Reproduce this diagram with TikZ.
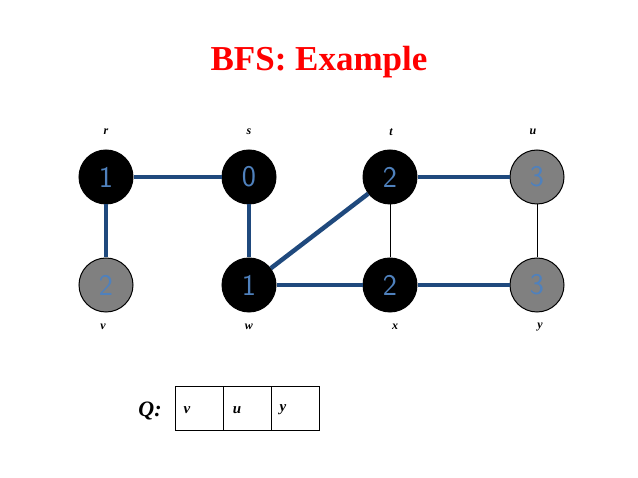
\documentclass[tikz,border=0pt]{standalone}
\usepackage{fontspec}
\setmainfont{Liberation Serif}
\begin{document}
\begin{tikzpicture}[x=1pt,y=-1pt,
  vtx/.style={circle,draw=black,line width=1pt,minimum size=54pt,inner sep=0pt,font=\fontsize{30}{30}\selectfont\sffamily,text=numc},
  blk/.style={vtx,fill=black},
  gry/.style={vtx,fill=graycol},
  tree/.style={line width=4.5pt,draw=treec},
  thin/.style={line width=1pt,draw=black},
  lab/.style={font=\bfseries\itshape\fontsize{12}{12}\selectfont},
  cell/.style={draw,line width=1pt,minimum width=48pt,minimum height=44pt,inner sep=0pt},
  qt/.style={font=\bfseries\itshape\fontsize{15}{15}\selectfont}]
\definecolor{numc}{HTML}{4F81BD}
\definecolor{treec}{HTML}{1F497D}
\definecolor{graycol}{HTML}{808080}
\useasboundingbox (0,0) rectangle (638,478);
\node[font=\bfseries\fontsize{35}{35}\selectfont,text=red] (title) at (319,62) {BFS: Example};
\node[blk] (r) at (106,177) {1};
\node[blk] (s) at (249,177) {0};
\node[blk] (t) at (390,177) {2};
\node[gry] (u) at (537,177) {3};
\node[gry] (v) at (106,285) {2};
\node[blk] (w) at (249,285) {1};
\node[blk] (x) at (390,285) {2};
\node[gry] (y) at (537,285) {3};
\draw[thin] (t) -- (x);
\draw[thin] (u) -- (y);
\draw[tree] (r) -- (s);
\draw[tree] (r) -- (v);
\draw[tree] (s) -- (w);
\draw[tree] (w) -- (t);
\draw[tree] (t) -- (u);
\draw[tree] (w) -- (x);
\draw[tree] (x) -- (y);
\node[lab] (lr) at (106,132) {r};
\node[lab] (ls) at (249,132) {s};
\node[lab] (lt) at (391,132) {t};
\node[lab] (lu) at (533,132) {u};
\node[lab] (lv) at (103,327) {v};
\node[lab] (lw) at (249,327) {w};
\node[lab] (lx) at (395,327) {x};
\node[lab] (ly) at (540,327) {y};
\node[font=\bfseries\itshape\fontsize{22}{22}\selectfont] (q) at (150,411) {Q:};
\node[cell] (q1) at (199,409) {};
\node[cell] (q2) at (247,409) {};
\node[cell] (q3) at (295,409) {};
\node[qt] (qv) at (187,410) {v};
\node[qt] (qu) at (237,410) {u};
\node[qt] (qy) at (283,410) {y};
\end{tikzpicture}
\end{document}
